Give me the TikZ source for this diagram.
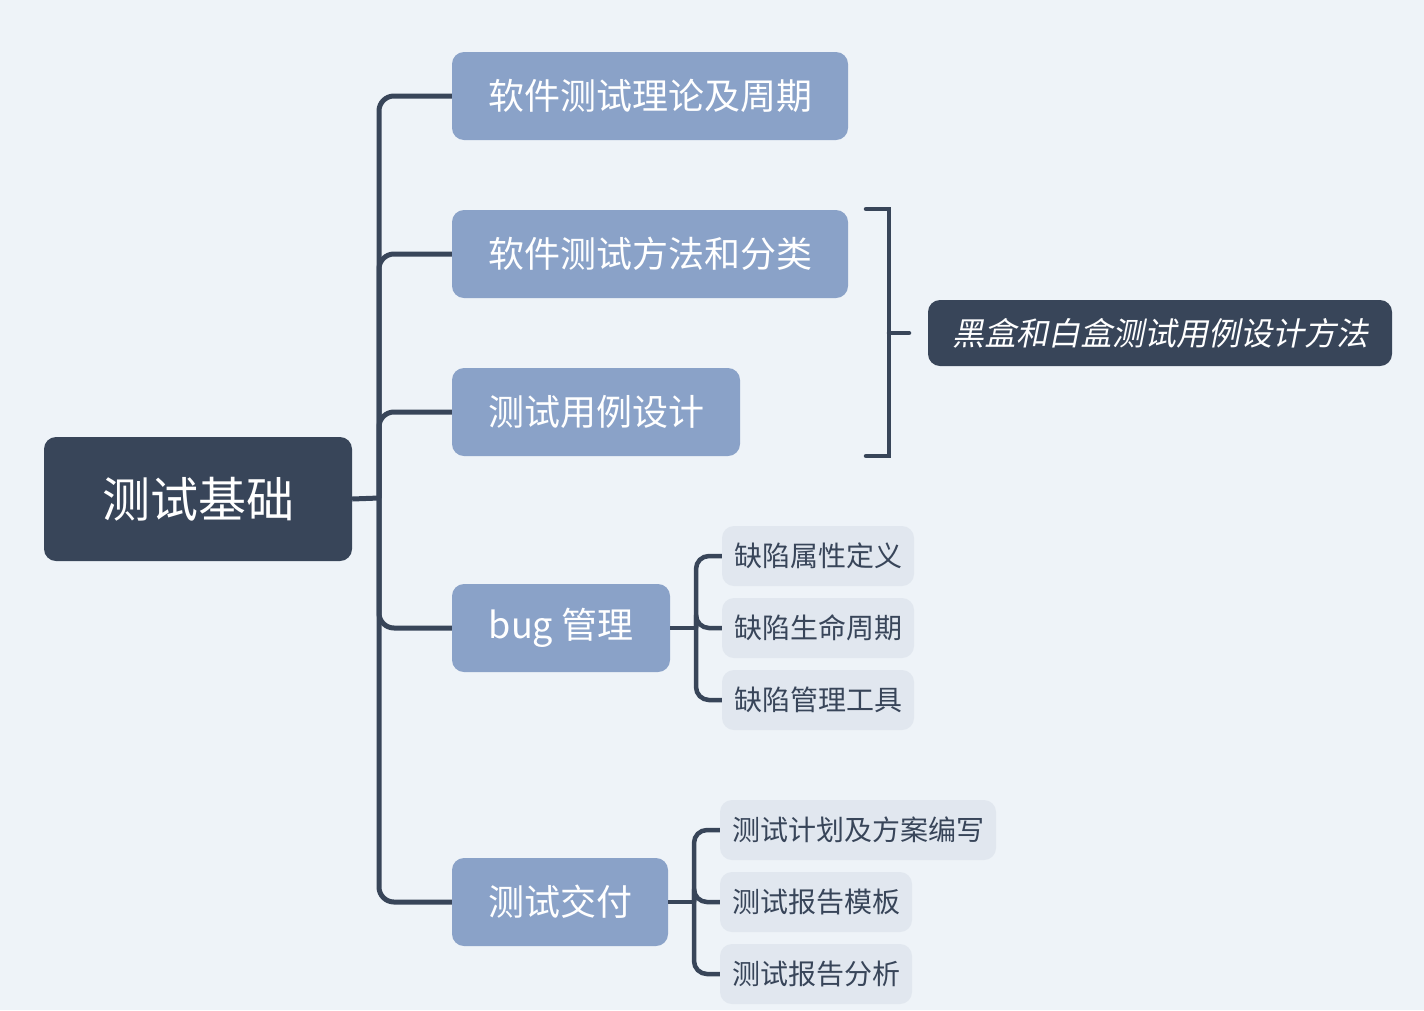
\documentclass[tikz,border=0pt]{standalone}
\usepackage{fontspec}
\setmainfont{Noto Sans CJK SC}
\newfontfamily\cjkslant[FakeSlant=0.2]{Noto Sans CJK SC}
\definecolor{bgc}{HTML}{EEF3F8}
\definecolor{dark}{HTML}{384559}
\definecolor{mid}{HTML}{8AA2C8}
\definecolor{light}{HTML}{E1E7EF}
\tikzset{
  rootbox/.style={fill=dark, text=white, rounded corners=12pt, inner sep=0pt, font=\fontsize{48}{56}\selectfont, minimum height=124pt},
  childbox/.style={fill=mid, text=white, rounded corners=12pt, inner sep=0pt, font=\fontsize{36}{42}\selectfont, minimum height=88pt},
  sumbox/.style={fill=dark, text=white, rounded corners=12pt, inner sep=0pt, font=\cjkslant\fontsize{32}{38}\selectfont, minimum height=66pt},
  leafbox/.style={fill=light, text=dark, rounded corners=12pt, inner sep=0pt, font=\fontsize{28}{34}\selectfont, minimum height=60pt},
  conn/.style={draw=dark, line width=5pt},
  conn2/.style={draw=dark, line width=4.5pt},
}
\begin{document}
\begin{tikzpicture}[x=1pt,y=-1pt]
\fill[bgc] (0,0) rectangle (1424,1010);
\useasboundingbox (0,0) rectangle (1424,1010);

\node[rootbox, minimum width=308pt] (root) at (198,499) {测试基础};
\node[childbox, minimum width=396pt] (c1) at (650,96) {软件测试理论及周期};
\node[childbox, minimum width=396pt] (c2) at (650,254) {软件测试方法和分类};
\node[childbox, minimum width=288pt] (c3) at (596,412) {测试用例设计};
\node[childbox, minimum width=218pt] (c4) at (561,628) {bug 管理};
\node[childbox, minimum width=216pt] (c5) at (560,902) {测试交付};
\node[sumbox, minimum width=464pt] (sum) at (1160,333) {黑盒和白盒测试用例设计方法};

\node[leafbox, minimum width=192pt] (l1) at (818,556) {缺陷属性定义};
\node[leafbox, minimum width=192pt] (l2) at (818,628) {缺陷生命周期};
\node[leafbox, minimum width=192pt] (l3) at (818,700) {缺陷管理工具};
\node[leafbox, minimum width=276pt] (m1) at (858,830) {测试计划及方案编写};
\node[leafbox, minimum width=192pt] (m2) at (816,902) {测试报告模板};
\node[leafbox, minimum width=192pt] (m3) at (816,974) {测试报告分析};

\coordinate (j0) at (379,498);
\draw[conn] (root.east) -- (j0);
\foreach \c in {c1,c2,c3,c4,c5}
  \draw[conn, rounded corners=15pt] (j0) |- (\c.west);

\coordinate (j1) at (696,628);
\draw[conn2] (c4.east) -- (j1);
\foreach \c in {l1,l2,l3}
  \draw[conn2, rounded corners=13pt] (j1) |- (\c.west);

\coordinate (j2) at (694,902);
\draw[conn2] (c5.east) -- (j2);
\foreach \c in {m1,m2,m3}
  \draw[conn2, rounded corners=13pt] (j2) |- (\c.west);

\coordinate (b1) at (866,209);
\coordinate (b2) at (866,456);
\coordinate (bm) at (889,333);
\coordinate (bt) at (909,333);
\draw[conn2, line cap=round] (b1) -| (bm) |- (b2);
\draw[conn2, line cap=round] (bm) -- (bt);
\end{tikzpicture}
\end{document}
